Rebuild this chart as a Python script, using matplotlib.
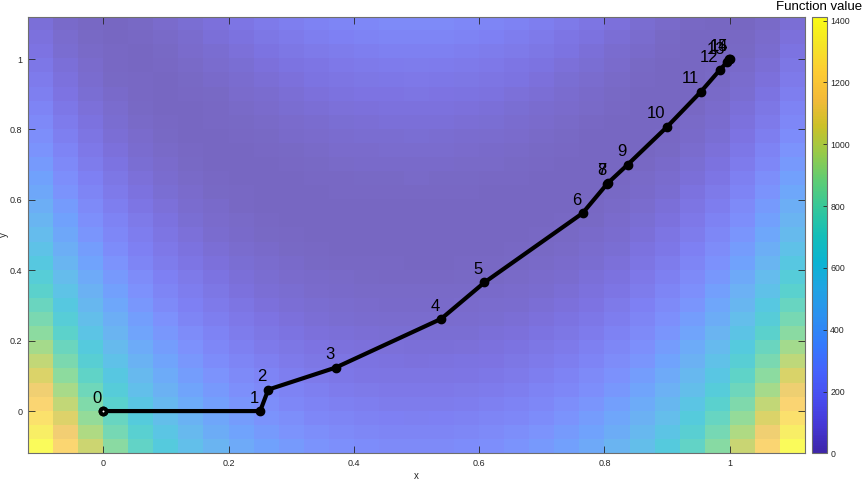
import numpy as np
import matplotlib.pyplot as plt
from matplotlib.colors import LinearSegmentedColormap, Normalize
from matplotlib.cm import ScalarMappable

plt.rcParams['font.family'] = ['Liberation Sans', 'DejaVu Sans']

# background function values, 31 x 31 cells, bottom row first, left to right
f_rows = [
    [1412.5, 1203, 1023, 869, 739, 629, 537, 461, 399, 349, 309, 278, 255, 239, 229, 226, 229, 238, 253, 276, 307, 346, 396, 458, 534, 625, 734, 864, 1018, 1197, 1407],
    [1339, 1135, 960, 811, 686, 580, 492, 419, 360, 312, 275, 245, 224, 209, 200, 197, 200, 208, 223, 244, 273, 310, 357, 416, 488, 576, 681, 807, 955, 1129, 1333],
    [1267, 1069, 899, 756, 634, 533, 449, 380, 323, 278, 243, 215, 195, 181, 173, 170, 172, 180, 194, 214, 241, 276, 321, 376, 445, 529, 630, 751, 894, 1063, 1261],
    [1197, 1004, 841, 702, 585, 488, 408, 342, 289, 246, 213, 187, 168, 155, 148, 145, 147, 154, 167, 185, 211, 244, 286, 339, 404, 484, 581, 697, 835, 999, 1191],
    [1129, 942, 784, 650, 538, 445, 368, 306, 256, 216, 185, 161, 143, 131, 124, 122, 124, 131, 142, 159, 183, 213, 253, 303, 365, 441, 534, 645, 779, 937, 1123],
    [1063, 882, 729, 600, 493, 404, 331, 272, 225, 188, 159, 137, 121, 110, 103, 101, 103, 109, 119, 135, 157, 185, 222, 269, 328, 400, 488, 595, 724, 876, 1057],
    [999, 824, 676, 552, 450, 365, 296, 240, 196, 161, 135, 114, 100, 90, 84, 82, 84, 89, 99, 113, 133, 159, 193, 237, 292, 361, 445, 548, 671, 818, 993],
    [937, 768, 625, 507, 408, 328, 263, 211, 169, 137, 113, 94, 81, 72, 67, 65, 66, 71, 80, 93, 111, 135, 167, 207, 259, 324, 404, 502, 620, 762, 931],
    [877, 713, 577, 463, 369, 293, 232, 183, 145, 115, 93, 76, 64, 56, 52, 50, 51, 55, 63, 74, 91, 113, 142, 180, 228, 289, 365, 458, 571, 708, 871],
    [819, 661, 530, 421, 332, 260, 202, 157, 122, 95, 75, 60, 49, 42, 38, 37, 38, 42, 48, 58, 73, 92, 119, 154, 199, 256, 328, 416, 525, 656, 813],
    [763, 611, 485, 381, 297, 229, 175, 133, 101, 77, 59, 46, 37, 31, 27, 26, 27, 30, 35, 44, 57, 74, 98, 130, 172, 225, 292, 376, 480, 605, 757],
    [709, 563, 442, 343, 264, 200, 150, 111, 82, 60, 45, 33, 26, 21, 18, 17, 18, 20, 25, 32, 43, 58, 79, 108, 146, 196, 259, 339, 437, 557, 703],
    [657, 517, 401, 308, 232, 173, 127, 92, 65, 46, 33, 23, 17, 13, 11, 10, 10, 12, 16, 22, 31, 44, 63, 88, 123, 169, 228, 303, 396, 511, 651],
    [607, 472, 363, 274, 203, 148, 106, 74, 51, 34, 23, 15, 10, 7, 6, 5, 5, 6, 9, 13, 21, 32, 48, 71, 102, 144, 199, 269, 357, 467, 601],
    [559, 430, 326, 242, 176, 125, 86, 58, 38, 24, 15, 9, 5, 3, 2, 2, 2, 3, 4, 7, 13, 21, 35, 55, 83, 121, 172, 237, 321, 425, 553],
    [513, 390, 291, 212, 151, 104, 69, 44, 27, 16, 9, 5, 3, 2, 1, 1, 1, 1, 1, 3, 7, 13, 24, 41, 66, 100, 146, 207, 286, 384, 507],
    [469, 352, 258, 184, 128, 85, 54, 32, 18, 9, 5, 2, 2, 2, 2, 2, 2, 1, 0.5, 1, 3, 7, 15, 29, 50, 81, 123, 180, 253, 346, 463],
    [427, 316, 227, 159, 106, 68, 41, 23, 11, 5, 2.5, 2, 3, 4, 5, 5, 4, 3, 2, 0.5, 0.5, 3, 8.5, 19, 37, 64, 102, 154, 222, 310, 421],
    [387, 281, 199, 135, 87, 53, 30, 15, 6.5, 3, 2.5, 4, 6, 8, 10, 10, 9, 7, 5, 2, 0.5, 0.5, 4, 12, 26, 49, 83, 130, 193, 276, 381],
    [349, 249, 172, 113, 70, 40, 20, 9, 4, 3, 4.5, 8, 11, 14, 16, 17, 16, 14, 10, 6, 2.5, 0.3, 1, 6, 17, 36, 66, 108, 167, 244, 343],
    [313, 219, 147, 93, 55, 29, 13, 5, 3, 5, 8.5, 14, 18.5, 23, 25, 26, 25, 22, 17, 12, 6.5, 2, 0.1, 2, 10, 25, 50, 88, 142, 213, 307],
    [279, 191, 124, 75, 42, 20, 8, 3, 4, 8, 14.5, 21, 28, 33, 36, 37, 36, 32, 26.5, 20, 12.5, 6, 1, 0.2, 4, 16, 37, 71, 119, 185, 273],
    [247, 165, 103, 60, 30, 13, 5, 4, 7, 14, 22.5, 31, 39, 45, 49, 50, 48, 44, 38, 30, 20.5, 12, 4.5, 0.4, 1, 9, 26, 55, 98, 159, 241],
    [217, 140, 85, 46, 21, 8, 4, 6, 12.5, 22, 32.5, 43, 52, 59, 64, 65, 63, 58, 51, 41, 30.5, 20, 10, 2.6, 0.02, 4, 17, 41, 79, 135, 211],
    [188.5, 118, 68, 34, 14, 5, 4, 10, 20, 32, 44.5, 57, 67, 75, 80, 82, 80, 75, 66, 55, 42.5, 29, 17, 7, 0.8, 1, 10, 29, 62.5, 113, 182.5],
    [162.5, 98, 53, 24, 9, 4, 7, 16, 29, 44, 58.5, 73, 84.5, 94, 99, 101, 99, 93, 83, 71, 56.5, 41, 26, 13, 3.6, 0, 4.4, 19, 48, 92, 156.5],
    [138.5, 80, 40, 16, 6, 5, 12, 24, 40, 57, 74.5, 90, 104, 114, 120, 122, 120, 113, 102.5, 89, 72.5, 55, 37, 21, 8, 1, 1.2, 12, 35, 74, 132.5],
    [116.5, 64, 29, 11, 4, 8, 19, 35, 53, 73, 92.5, 110, 125, 136, 143, 145, 142, 135, 124, 109, 90.5, 71, 50.5, 31, 15, 4, 0.02, 5.8, 24, 58, 110.5],
    [96.5, 49, 20.5, 7, 5, 13, 28, 47, 68.5, 91, 112.5, 132, 148, 160, 168, 170, 167, 159, 147, 130, 110.5, 89, 66, 44, 24, 9, 0.8, 2, 15, 44, 90.5],
    [78.5, 37, 14, 5, 8, 20, 38, 61, 86, 111, 134.5, 156, 173, 186, 194, 197, 194, 186, 172, 154, 132.5, 108, 83, 58, 35, 16, 3.6, 0.2, 8.5, 31.5, 72.5],
    [62.5, 27, 9, 5, 13, 29, 51, 77, 105, 133, 158.5, 182, 200.5, 215, 223, 226, 223, 214, 199, 180, 156.5, 130, 102, 74, 48, 25, 8.4, 0.4, 3.7, 21, 56.5],
]

# optimiser iterates
path_x = [0.0, 0.2505, 0.2635, 0.371, 0.5394, 0.6085, 0.765, 0.8045, 0.805,
          0.837, 0.900, 0.9538, 0.9836, 0.9955, 0.9995, 1.0]
path_y = [0.0, 0.0, 0.061, 0.1235, 0.262, 0.3655, 0.562, 0.646, 0.647,
          0.700, 0.8076, 0.907, 0.968, 0.991, 0.999, 1.0]
path_labels = ['0', '1', '2', '3', '4', '5', '6', '7', '8', '9', '10',
               '11', '12', '13', '14', '15']

tick_vals = [0, 0.2, 0.4, 0.6, 0.8, 1]
tick_text = ['0', '0.2', '0.4', '0.6', '0.8', '1']
cbar_ticks = [0, 200, 400, 600, 800, 1000, 1200, 1400]

# MATLAB parula, sampled every 16th entry
parula_pts = [
    (0.2422, 0.1504, 0.6603), (0.2704, 0.2138, 0.8346), (0.2813, 0.2985, 0.9397),
    (0.2710, 0.3860, 0.9898), (0.2006, 0.4803, 0.9906), (0.1716, 0.5655, 0.9393),
    (0.1288, 0.6408, 0.8910), (0.0433, 0.7039, 0.8242), (0.0770, 0.7468, 0.7224),
    (0.2061, 0.7808, 0.6065), (0.3671, 0.8021, 0.4563), (0.5886, 0.7913, 0.2833),
    (0.7945, 0.7554, 0.1570), (0.9523, 0.7284, 0.2237), (0.9938, 0.7974, 0.1974),
    (0.9601, 0.8963, 0.1507), (0.9769, 0.9839, 0.0805),
]
parula = LinearSegmentedColormap.from_list('parula', parula_pts, N=256)

Z = np.array(f_rows)
norm = Normalize(vmin=Z.min(), vmax=Z.max())

fig = plt.figure(figsize=(8.64, 4.8), dpi=100)
ax = fig.add_axes([0.0324, 0.0556, 0.8993, 0.9094])
cax = fig.add_axes([0.9402, 0.0556, 0.0167, 0.9094])

ax.imshow(Z, origin='lower', extent=(-0.12, 1.12, -0.12, 1.12), cmap=parula,
          norm=norm, alpha=0.7, interpolation='nearest', aspect='auto')

ax.plot(path_x, path_y, color='black', lw=3, marker='o', ms=6, mfc='black',
        mec='black', zorder=3)
ax.plot(path_x[0], path_y[0], marker='o', ms=4.3, mfc='white', mec='black',
        mew=2.8, zorder=4)

for px, py, lbl in zip(path_x, path_y, path_labels):
    ax.annotate(lbl, (px, py), xytext=(-1, 6), textcoords='offset points',
                ha='right', va='baseline', fontsize=12, color='black', zorder=5)

ax.set_xlim(-0.12, 1.12)
ax.set_ylim(-0.12, 1.12)
ax.set_xticks(tick_vals)
ax.set_xticklabels(tick_text)
ax.set_yticks(tick_vals)
ax.set_yticklabels(tick_text)
ax.tick_params(direction='in', length=5, width=0.6, color='#262626',
               labelsize=6.5, labelcolor='#262626', top=True, right=True, pad=4)
for sp in ax.spines.values():
    sp.set_color('#6e6e6e')
    sp.set_linewidth(0.8)
ax.set_xlabel('x', fontsize=7, color='#262626', labelpad=2)
ax.set_ylabel('y', fontsize=7, color='#262626')
ax.yaxis.set_label_coords(-0.025, 0.5)

cb = fig.colorbar(ScalarMappable(norm=norm, cmap=parula), cax=cax)
cb.set_ticks(cbar_ticks)
cb.ax.tick_params(direction='in', length=3, width=0.6, color='#262626',
                  labelsize=6.3, labelcolor='#262626', pad=2.5)
cb.outline.set_edgecolor('#6e6e6e')
cb.outline.set_linewidth(0.8)

fig.text(0.9975, 0.985, 'Function value', ha='right', va='center',
         fontsize=9.5, color='black')

fig.savefig('out.png', dpi=100)
